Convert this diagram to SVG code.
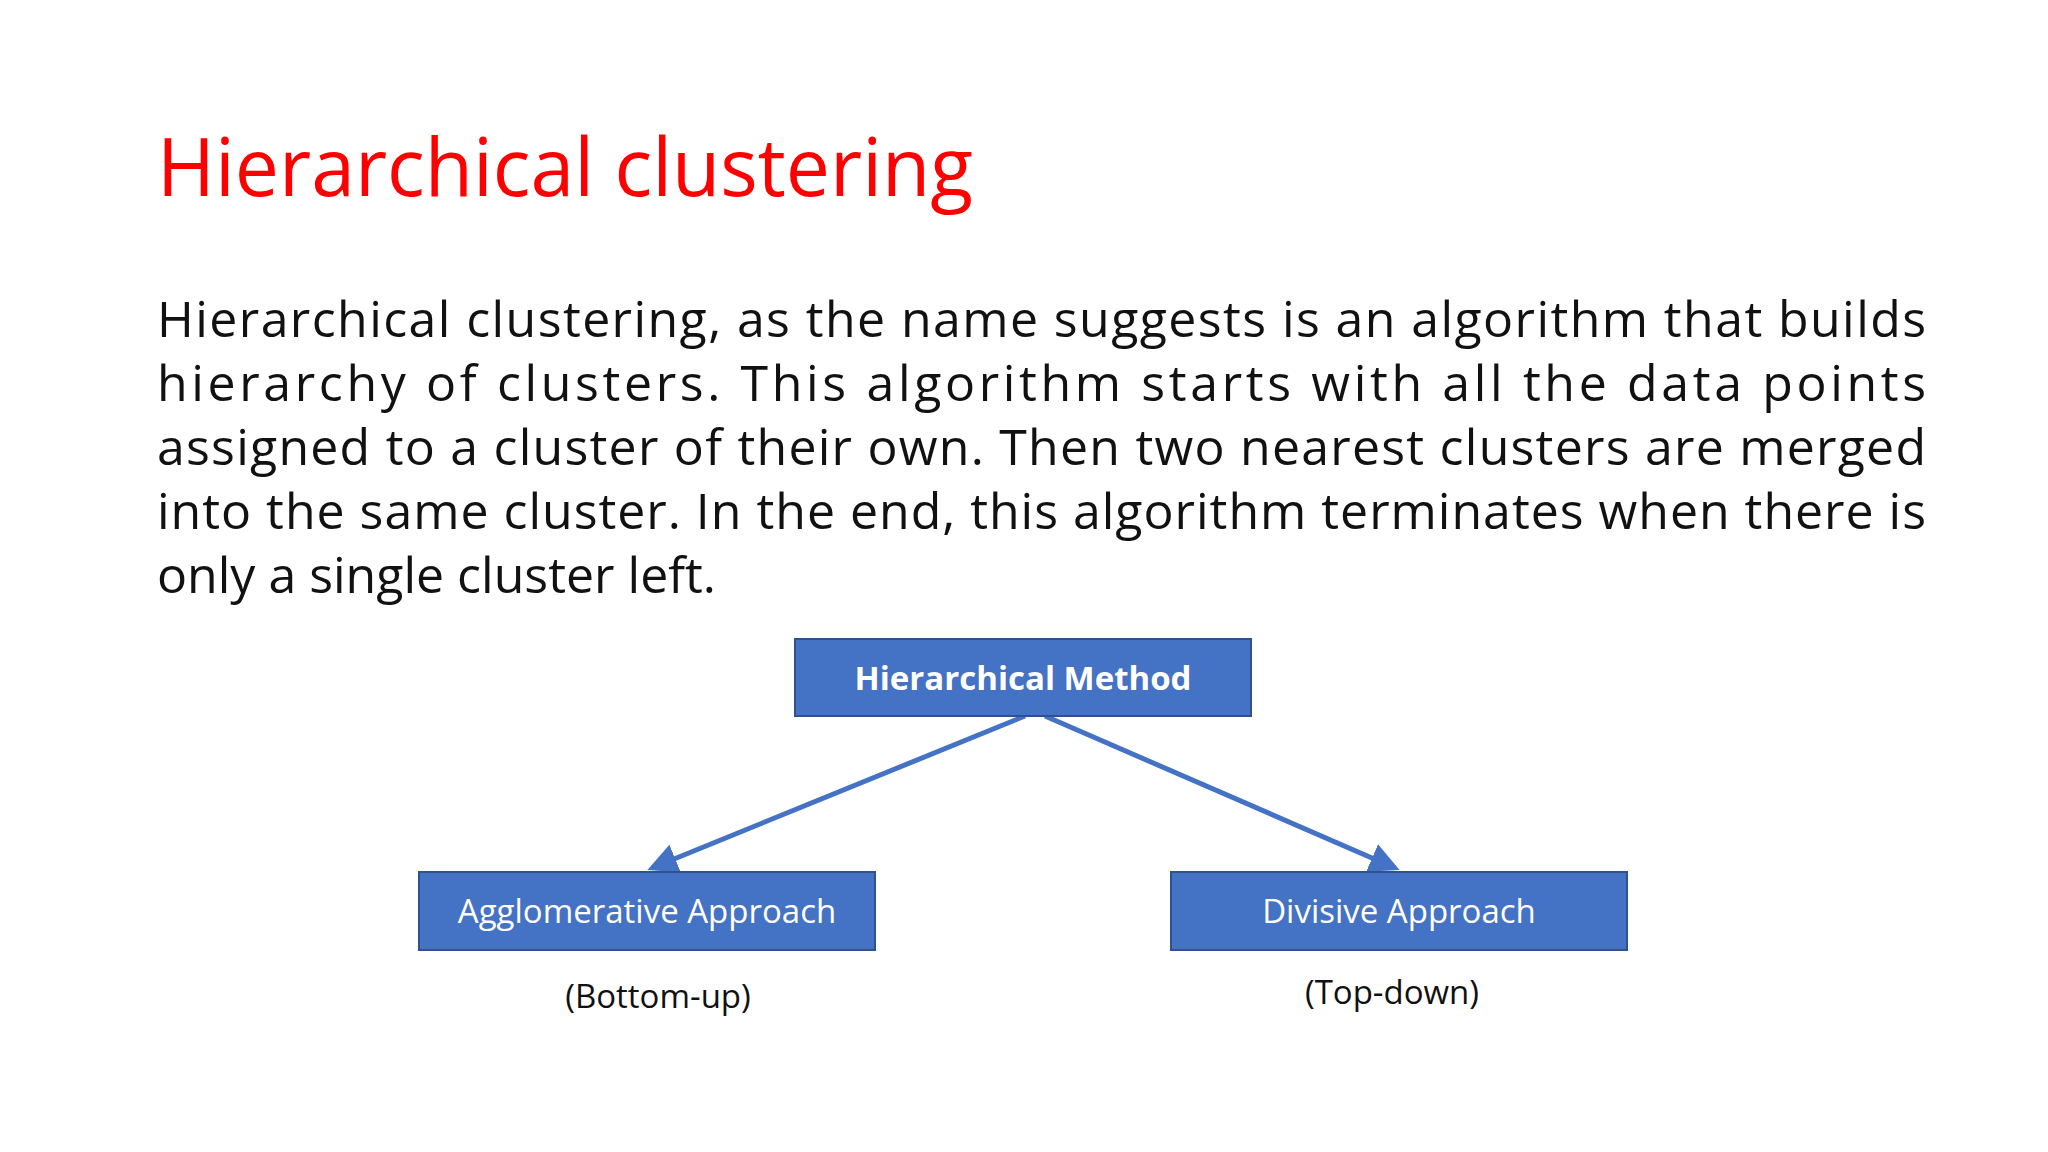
<svg xmlns="http://www.w3.org/2000/svg" width="2048" height="1152" viewBox="0 0 2048 1152">
<style>
.t{font-family:"Open Sans","Liberation Sans",sans-serif}
.box{fill:#4472C4;stroke:#2F528F;stroke-width:2}
.p{font-size:50px;fill:#111}
.bl{font-size:33px;fill:#fff}
.sub{font-size:33px;fill:#111}
</style>
<defs><marker id="ah" markerWidth="6" markerHeight="6" refX="5" refY="3" orient="auto" markerUnits="strokeWidth"><path d="M0,0 L6,3 L0,6 z" fill="#4472C4"/></marker></defs>
<rect width="2048" height="1152" fill="#fff"/>
<text class="t" x="157" y="196" font-size="80" fill="#FF0000" textLength="816" lengthAdjust="spacingAndGlyphs">Hierarchical clustering</text>
<text class="t p" x="157" y="337" textLength="1769">Hierarchical clustering, as the name suggests is an algorithm that builds</text>
<text class="t p" x="157" y="401" textLength="1769">hierarchy of clusters. This algorithm starts with all the data points</text>
<text class="t p" x="157" y="465" textLength="1769">assigned to a cluster of their own. Then two nearest clusters are merged</text>
<text class="t p" x="157" y="529" textLength="1769">into the same cluster. In the end, this algorithm terminates when there is</text>
<text class="t p" x="157" y="593">only a single cluster left.</text>
<g id="connectors" stroke="#4472C4" stroke-width="5" fill="none">
<line x1="1025" y1="716" x2="652" y2="868" marker-end="url(#ah)"/>
<line x1="1045" y1="716" x2="1395" y2="868" marker-end="url(#ah)"/>
</g>
<g id="hier"><rect class="box" x="795" y="639" width="456" height="77"/><text class="t bl" x="1023" y="690" text-anchor="middle" font-weight="bold">Hierarchical Method</text></g>
<g id="agg"><rect class="box" x="419" y="872" width="456" height="78"/><text class="t bl" x="647" y="923" text-anchor="middle">Agglomerative Approach</text></g>
<g id="div"><rect class="box" x="1171" y="872" width="456" height="78"/><text class="t bl" x="1399" y="923" text-anchor="middle">Divisive Approach</text></g>
<text class="t sub" x="658" y="1008" text-anchor="middle">(Bottom-up)</text>
<text class="t sub" x="1392" y="1004" text-anchor="middle">(Top-down)</text>
</svg>
